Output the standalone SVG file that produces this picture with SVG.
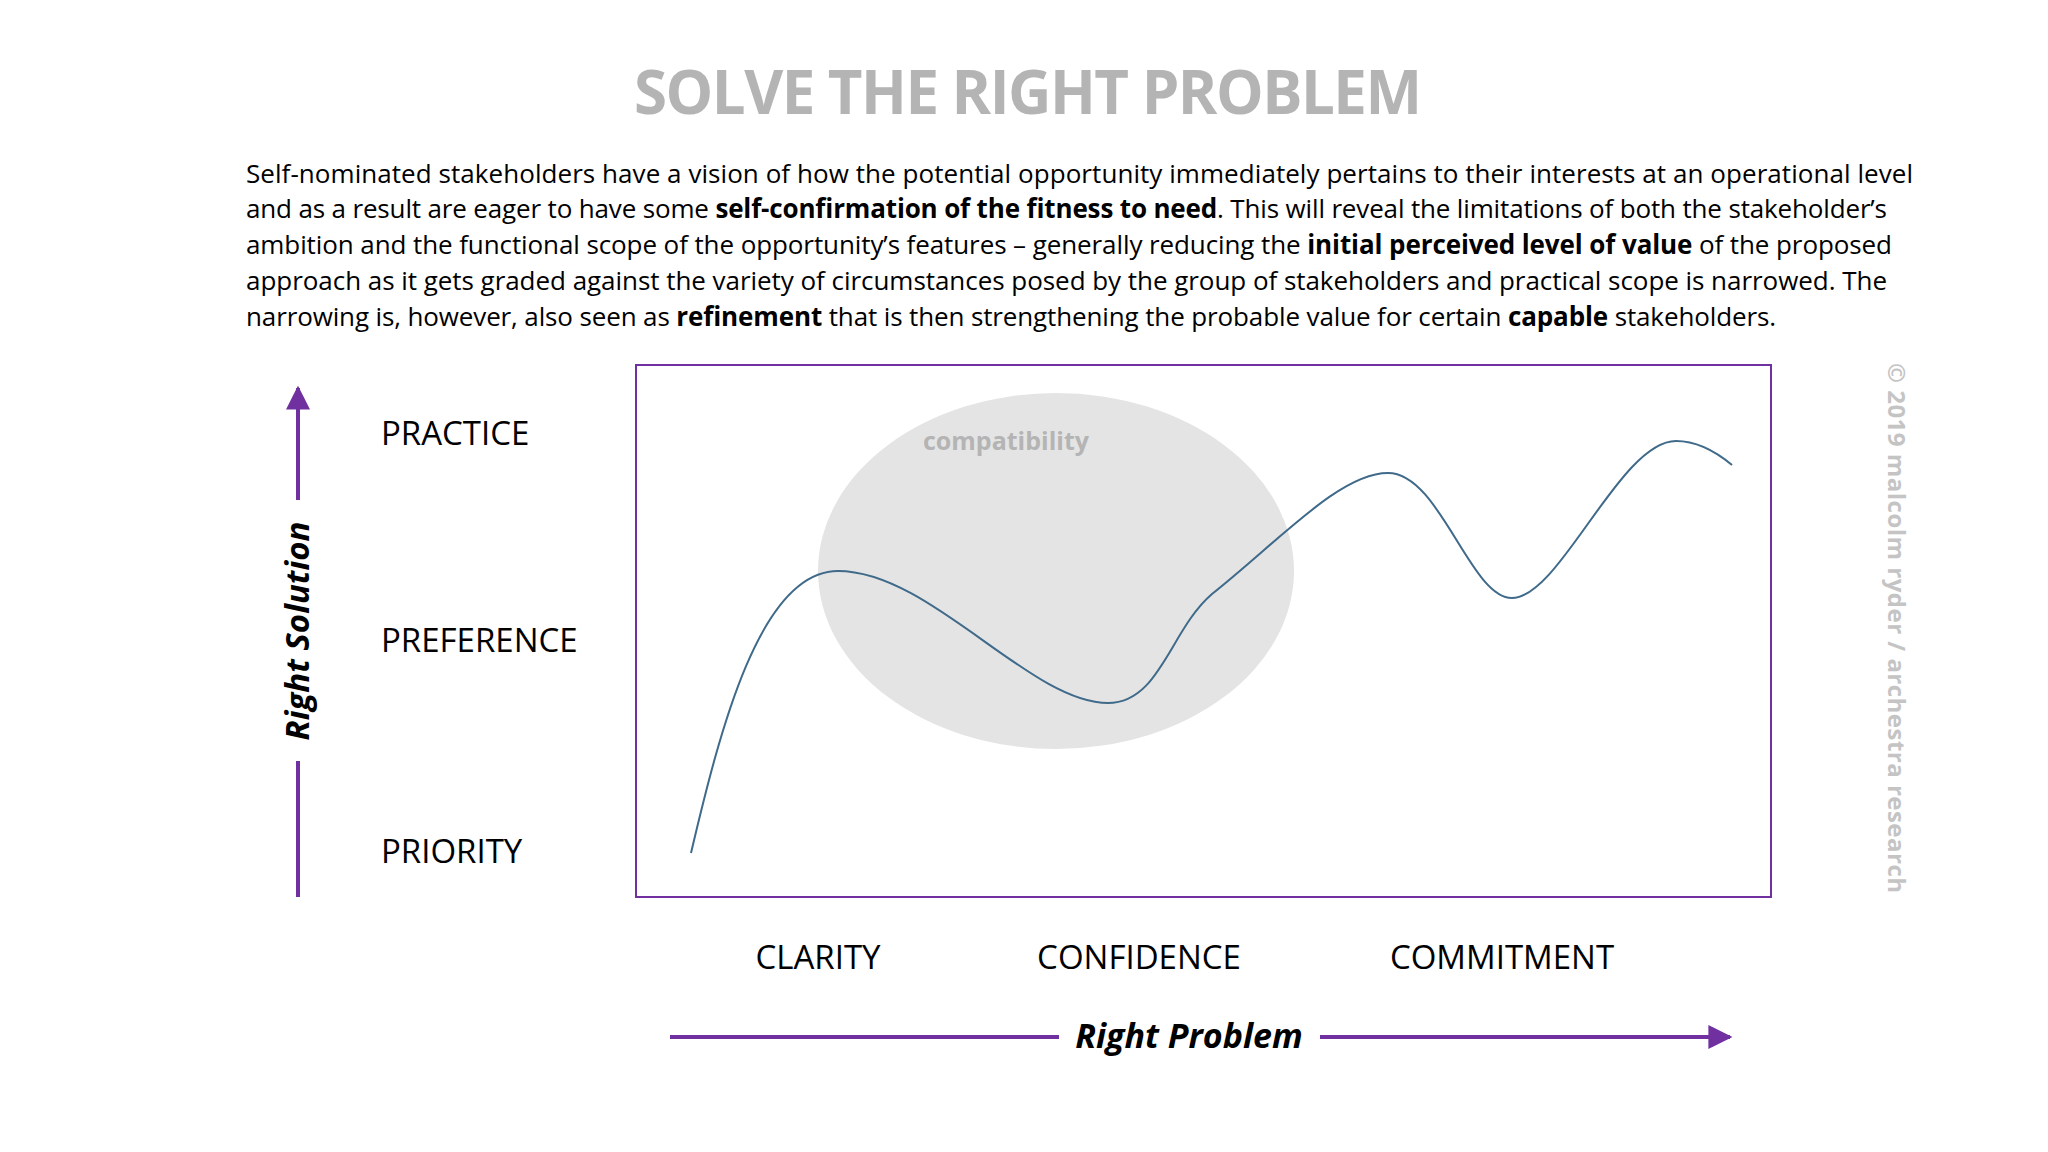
<svg xmlns="http://www.w3.org/2000/svg" width="2048" height="1152" viewBox="0 0 2048 1152">
<defs>
<style>
text{font-family:"Open Sans","Liberation Sans",sans-serif;fill:#000}
.lbl{font-size:33px}
.p{font-size:26px}
.pu{stroke:#7030a0;stroke-width:4;fill:none}
</style>
<marker id="ah" viewBox="0 0 10 10" refX="9" refY="5" markerWidth="6" markerHeight="6" orient="auto" markerUnits="strokeWidth"><path d="M0,0L10,5L0,10z" fill="#7030a0"/></marker>
</defs>
<rect width="2048" height="1152" fill="#fff"/>
<text x="1028" y="114" text-anchor="middle" font-size="60" font-weight="bold" fill="#b4b4b4" style="fill:#b4b4b4" textLength="788">SOLVE THE RIGHT PROBLEM</text>
<g class="p">
<text class="p" x="246" y="183" textLength="1667">Self-nominated stakeholders have a vision of how the potential opportunity immediately pertains to their interests at an operational level</text>
<text class="p" x="246" y="218" textLength="1641">and as a result are eager to have some <tspan font-weight="bold">self-confirmation of the fitness to need</tspan>. This will reveal the limitations of both the stakeholder’s</text>
<text class="p" x="246" y="254" textLength="1646">ambition and the functional scope of the opportunity’s features – generally reducing the <tspan font-weight="bold">initial perceived level of value</tspan> of the proposed</text>
<text class="p" x="246" y="290" textLength="1641">approach as it gets graded against the variety of circumstances posed by the group of stakeholders and practical scope is narrowed. The</text>
<text class="p" x="246" y="326" textLength="1530">narrowing is, however, also seen as <tspan font-weight="bold">refinement</tspan> that is then strengthening the probable value for certain <tspan font-weight="bold">capable</tspan> stakeholders.</text>
</g>
<g id="chart">
<ellipse cx="1056" cy="571" rx="238" ry="178" fill="#e4e4e4"/>
<text x="1006" y="450" text-anchor="middle" font-size="25" font-weight="bold" style="fill:#b4b4b4">compatibility</text>
<rect x="636" y="365" width="1135" height="532" fill="none" stroke="#7030a0" stroke-width="2"/>
<path d="M691,853 C720,730 760,571 838,571 C930,571 1030,703 1108,703 C1160,703 1170,630 1212,594 C1280,540 1340,473 1388,473 C1440,473 1470,598 1512,598 C1560,598 1620,441 1676,441 C1700,441 1720,455 1732,465" fill="none" stroke="#3f6a8a" stroke-width="2"/>
</g>
<g id="ylabels">
<text class="lbl" x="381" y="445">PRACTICE</text>
<text class="lbl" x="381" y="652">PREFERENCE</text>
<text class="lbl" x="381" y="863">PRIORITY</text>
</g>
<g id="xlabels">
<text class="lbl" x="818" y="969" text-anchor="middle">CLARITY</text>
<text class="lbl" x="1139" y="969" text-anchor="middle">CONFIDENCE</text>
<text class="lbl" x="1502" y="969" text-anchor="middle">COMMITMENT</text>
</g>
<g id="connectors">
<line class="pu" x1="670" y1="1037" x2="1059" y2="1037"/>
<line class="pu" x1="1320" y1="1037" x2="1730" y2="1037" marker-end="url(#ah)"/>
<line class="pu" x1="298" y1="500" x2="298" y2="388" marker-end="url(#ah)"/>
<line class="pu" x1="298" y1="761" x2="298" y2="897"/>
</g>
<text x="1189" y="1048" text-anchor="middle" font-size="34" font-weight="bold" font-style="italic">Right Problem</text>
<text transform="translate(309,631) rotate(-90)" text-anchor="middle" font-size="33" font-weight="bold" font-style="italic">Right Solution</text>
<text transform="translate(1888,363) rotate(90)" font-size="24" font-weight="bold" style="fill:#c4c4c4" textLength="530">© 2019 malcolm ryder / archestra research</text>
</svg>
